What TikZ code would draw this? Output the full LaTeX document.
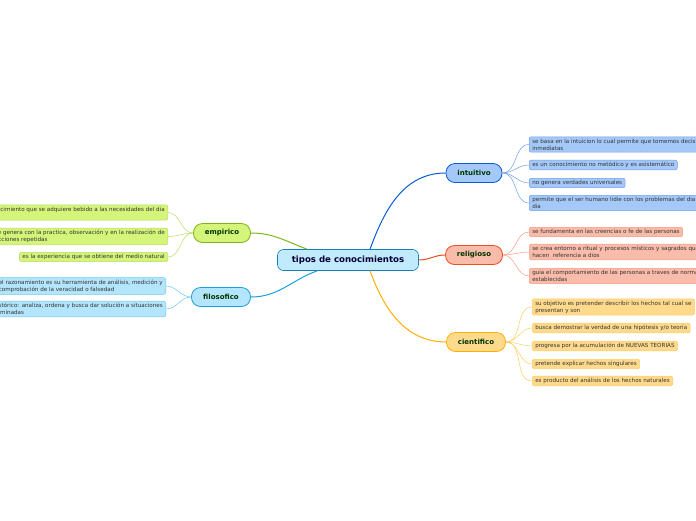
\documentclass[tikz,border=0pt]{standalone}
\usepackage{fontspec}
\setmainfont{DejaVu Sans}
\begin{document}
\begin{tikzpicture}[x=1pt,y=-1pt,
 leaf/.style={draw,rounded corners=2pt,line width=0.5pt,inner xsep=3pt,inner ysep=2pt,font=\fontsize{5.6}{7}\selectfont,align=left,text=black!80},
 branch/.style={draw,rounded corners=9pt,line width=0.8pt,minimum height=19pt,font=\fontsize{7}{8}\selectfont\bfseries,text=black!80!green},
 con/.style={line width=0.5pt}]
\useasboundingbox (0,0) rectangle (696,520);
\clip (0,0) rectangle (696,520);
\definecolor{gF}{HTML}{D4F57A}\definecolor{gL}{HTML}{7FB51A}\definecolor{gl}{HTML}{B8DC60}
\definecolor{bF}{HTML}{B3E5FC}\definecolor{bL}{HTML}{1AA0E0}\definecolor{bl}{HTML}{70C8F0}
\definecolor{iF}{HTML}{A4C8F8}\definecolor{iL}{HTML}{0A5CD6}\definecolor{il}{HTML}{6FA0E8}
\definecolor{rF}{HTML}{F9BCAA}\definecolor{rL}{HTML}{E8501E}\definecolor{rl}{HTML}{F59A80}
\definecolor{cF}{HTML}{FFDA8C}\definecolor{cL}{HTML}{FFB000}\definecolor{cl}{HTML}{FFCE60}
\node[draw=bL!80!black,fill=bF!80!white,rounded corners=6pt,line width=0.6pt,minimum width=141pt,minimum height=21pt,font=\fontsize{8.6}{9}\selectfont\bfseries,text=black!80!blue] (c) at (348,260) {tipos de conocimientos};
\node[branch,draw=gL,fill=gF,minimum width=57pt] (emp) at (222,233) {empirico};
\node[branch,draw=bL,fill=bF,minimum width=59pt] (fil) at (221,297) {filosofico};
\node[branch,draw=iL,fill=iF,minimum width=56pt] (int) at (474,173) {intuitivo};
\node[branch,draw=rL,fill=rF,minimum width=57pt] (rel) at (474,255) {religioso};
\node[branch,draw=cL,fill=cF,minimum width=59pt] (cie) at (476,342) {cientifico};
\draw[con,gL,line width=1pt] (c.north west)++(30,0) to[out=160,in=0] (emp.east);
\draw[con,bL,line width=1pt] (c.south west)++(40,0) to[out=200,in=0] (fil.east);
\draw[con,iL,line width=1pt] (c.north)++(22,0) to[out=70,in=180] (int.west);
\draw[con,rL,line width=1pt] (c.east) to[out=0,in=180] (rel.west);
\draw[con,cL,line width=1pt] (c.south)++(22,0) to[out=-70,in=180] (cie.west);
% empirico leaves
\node[leaf,draw=gl,fill=gF,anchor=east] (e1) at (168,212.5) {es el conocimiento que se adquiere bebido a las necesidades del dia\\a dia};
\node[leaf,draw=gl,fill=gF,anchor=east] (e2) at (168,236.5) {se genera con la practica, observación y en la realización de\\acciones repetidas};
\node[leaf,draw=gl,fill=gF,anchor=east] (e3) at (168,257) {es la experiencia que se obtiene del medio natural};
\foreach \n in {e1,e2,e3} \draw[con,gl] (emp.west) to[out=180,in=0] (\n.east);
% filosofico
\node[leaf,draw=bl,fill=bF,anchor=east] (f1) at (166,286) {el razonamiento es su herramienta de análisis, medición y\\comprobación de la veracidad o falsedad};
\node[leaf,draw=bl,fill=bF,anchor=east] (f2) at (166,309) {es histórico: analiza, ordena y busca dar solución a situaciones\\determinadas};
\foreach \n in {f1,f2} \draw[con,bl] (fil.west) to[out=180,in=0] (\n.east);
% intuitivo
\node[leaf,draw=il,fill=iF,anchor=west] (i1) at (529,144.5) {se basa en la intuicion lo cual permite que tomemos decisiones\\inmediatas};
\node[leaf,draw=il,fill=iF,anchor=west] (i2) at (529,165) {es un conocimiento no metódico y es asistemático};
\node[leaf,draw=il,fill=iF,anchor=west] (i3) at (529,183) {no genera verdades universales};
\node[leaf,draw=il,fill=iF,anchor=west] (i4) at (529,203) {permite que el ser humano lidie con los problemas del dia a\\dia};
\foreach \n in {i1,i2,i3,i4} \draw[con,il] (int.east) to[out=0,in=180] (\n.west);
% religioso
\node[leaf,draw=rl,fill=rF,anchor=west] (r1) at (529,232) {se fundamenta en las creencias o fe de las personas};
\node[leaf,draw=rl,fill=rF,anchor=west] (r2) at (529,252) {se crea entorno a ritual y procesos místicos y sagrados que\\hacen\ \ referencia a dios};
\node[leaf,draw=rl,fill=rF,anchor=west] (r3) at (529,276) {guia el comportamiento de las personas a traves de normas\\establecidas};
\foreach \n in {r1,r2,r3} \draw[con,rl] (rel.east) to[out=0,in=180] (\n.west);
% cientifico
\node[leaf,draw=cl,fill=cF,anchor=west] (s1) at (532,307) {su objetivo es pretender describir los hechos tal cual se\\presentan y son};
\node[leaf,draw=cl,fill=cF,anchor=west] (s2) at (532,328) {busca demostrar la verdad de una hipótesis y/o teoría};
\node[leaf,draw=cl,fill=cF,anchor=west] (s3) at (532,346) {progresa por la acumulación de NUEVAS TEORIAS};
\node[leaf,draw=cl,fill=cF,anchor=west] (s4) at (532,364) {pretende explicar hechos singulares};
\node[leaf,draw=cl,fill=cF,anchor=west] (s5) at (532,381) {es producto del análisis de los hechos naturales};
\foreach \n in {s1,s2,s3,s4,s5} \draw[con,cl] (cie.east) to[out=0,in=180] (\n.west);
\end{tikzpicture}
\end{document}
